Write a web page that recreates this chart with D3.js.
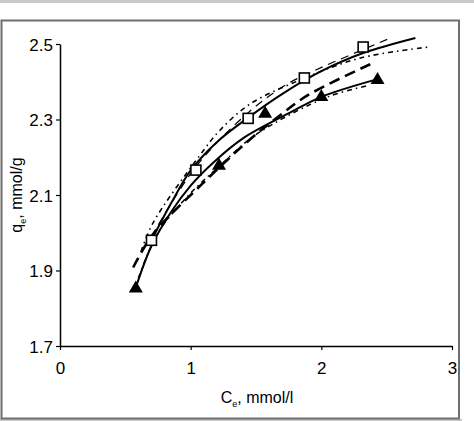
<!DOCTYPE html>
<html>
<head>
  <meta charset="utf-8">
  <title>Isotherm</title>
  <style>
    body { margin: 0; background: #fff; }
    svg { display: block; font-family: "Liberation Sans", Arial, sans-serif; }
  </style>
</head>
<body>
  <div id="graph"></div>
  <script src="https://cdn.jsdelivr.net/npm/d3@7"></script>
  <script>
    // experimental points
    const squares = [[0.70, 1.98], [1.04, 2.166], [1.44, 2.303], [1.87, 2.41], [2.32, 2.492]];
    const triangles = [[0.58, 1.855], [1.217, 2.18], [1.57, 2.318], [2.0, 2.362], [2.43, 2.407]];

    // curves
    const solidSq = [[0.70, 1.98], [0.85, 2.078], [1.0, 2.165], [1.2, 2.24], [1.44, 2.305], [1.72, 2.372], [2.0, 2.428], [2.32, 2.476], [2.72, 2.516]];
    const solidTri = [[0.58, 1.855], [0.7, 1.965], [0.85, 2.055], [1.0, 2.125], [1.17, 2.185], [1.4, 2.25], [1.76, 2.318], [2.0, 2.36], [2.43, 2.407]];
    const heavyDash = [[0.56, 1.908], [0.71, 1.995], [1.09, 2.13], [1.43, 2.24], [1.68, 2.31], [1.9, 2.365], [2.41, 2.452]];
    const thinDash = [[0.7, 1.99], [1.04, 2.175], [1.44, 2.318], [1.72, 2.39], [1.95, 2.43], [2.51, 2.513]];
    const dashDotUp = [[0.62, 1.95], [0.71, 2.025], [1.07, 2.205], [1.22, 2.27], [1.45, 2.34], [1.84, 2.405], [2.3, 2.463], [2.82, 2.492]];
    const dashDotLow = [[0.6, 1.88], [0.75, 2.0], [1.0, 2.105], [1.2, 2.17], [1.5, 2.26], [2.05, 2.36], [2.36, 2.39]];

    const xTicks = [0, 1, 2, 3];
    const yTicks = [1.7, 1.9, 2.1, 2.3, 2.5];

    const W = 474, H = 421;
    const svg = d3.select("#graph").append("svg")
      .attr("width", W).attr("height", H);

    // frame of the picture
    svg.append("rect").attr("x", 0).attr("y", 0).attr("width", W).attr("height", 3).attr("fill", "#c8c8c8");
    svg.append("rect").attr("x", 0).attr("y", 419).attr("width", 462).attr("height", 2).attr("fill", "#c8c8c8");
    svg.append("rect")
      .attr("x", 1.5).attr("y", 20.5).attr("width", 457.5).attr("height", 398)
      .attr("fill", "none").attr("stroke", "#6e6e6e").attr("stroke-width", 2);

    const x = d3.scaleLinear().domain([0, 3]).range([60, 452]);
    const y = d3.scaleLinear().domain([1.7, 2.5]).range([346, 44]);

    // axes
    const gx = svg.append("g").attr("transform", `translate(0,${y(1.7)})`)
      .call(d3.axisBottom(x).tickValues(xTicks).tickFormat(d3.format("d")).tickSize(4).tickSizeOuter(0));
    const gy = svg.append("g").attr("transform", `translate(${x(0)},0)`)
      .call(d3.axisLeft(y).tickValues(yTicks).tickFormat(d3.format(".1f")).tickSize(4).tickSizeOuter(0));
    [gx, gy].forEach(g => {
      g.select(".domain").attr("stroke", "#000").attr("stroke-width", 1.5);
      g.selectAll(".tick line").attr("stroke", "#000").attr("stroke-width", 1.2);
      g.selectAll(".tick text").attr("fill", "#000")
        .style("font-size", "17px").style("font-family", "Liberation Sans, Arial, sans-serif");
    });
    gx.selectAll(".tick text").attr("dy", 0).attr("y", 28);
    gy.selectAll(".tick text").attr("x", -7).attr("dy", "0.36em");

    // axis titles
    const xt = svg.append("text").attr("x", 257).attr("y", 403)
      .attr("text-anchor", "middle").style("font-size", "16px");
    xt.append("tspan").text("C");
    xt.append("tspan").attr("dy", 4).style("font-size", "9px").text("e");
    xt.append("tspan").attr("dy", -4).text(", mmol/l");

    const yt = svg.append("text").attr("transform", "translate(22,195) rotate(-90)")
      .attr("text-anchor", "middle").style("font-size", "16px");
    yt.append("tspan").text("q");
    yt.append("tspan").attr("dy", 4).style("font-size", "9px").text("e");
    yt.append("tspan").attr("dy", -4).text(", mmol/g");

    const line = d3.line().x(d => x(d[0])).y(d => y(d[1])).curve(d3.curveCatmullRom.alpha(0.5));

    const curves = [
      { data: dashDotUp, w: 1.6, dash: "5,4,1.5,4" },
      { data: dashDotLow, w: 1.5, dash: "5,4,1.5,4" },
      { data: thinDash, w: 1.2, dash: "8,6" },
      { data: heavyDash, w: 2.6, dash: "11,6" },
      { data: solidTri, w: 2, dash: null },
      { data: solidSq, w: 2, dash: null }
    ];
    svg.append("g").selectAll("path").data(curves).enter().append("path")
      .attr("d", d => line(d.data))
      .attr("fill", "none").attr("stroke", "#000")
      .attr("stroke-width", d => d.w)
      .attr("stroke-dasharray", d => d.dash);

    // markers
    svg.append("g").selectAll("path").data(triangles).enter().append("path")
      .attr("transform", d => `translate(${x(d[0])},${y(d[1])})`)
      .attr("d", "M0,-7L7,5L-7,5Z").attr("fill", "#000");
    svg.append("g").selectAll("rect").data(squares).enter().append("rect")
      .attr("x", d => x(d[0]) - 5).attr("y", d => y(d[1]) - 5)
      .attr("width", 10).attr("height", 10)
      .attr("fill", "#fff").attr("stroke", "#000").attr("stroke-width", 1.6);
  </script>
</body>
</html>
